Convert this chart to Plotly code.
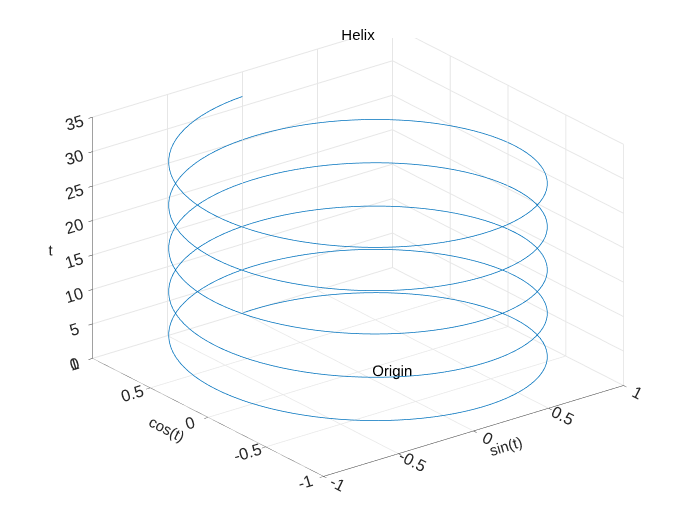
import numpy as np
import plotly.graph_objects as go

t_start = 0.0
t_end = 10 * np.pi
n_points = 501
xy_ticks = [-1, -0.5, 0, 0.5, 1]
xy_ticklabels = ["-1", "-0.5", "0", "0.5", "1"]
z_ticks = [0, 5, 10, 15, 20, 25, 30, 35]
label_text = ["Origin"]
label_pos = [0], [0], [0]

t = np.linspace(t_start, t_end, n_points)

fig = go.Figure()
fig.add_trace(go.Scatter3d(x=np.sin(t), y=np.cos(t), z=t, mode="lines",
                           line=dict(color="#0072BD", width=1.5), showlegend=False, hoverinfo="skip"))
fig.add_trace(go.Scatter3d(x=label_pos[0], y=label_pos[1], z=label_pos[2], mode="text", text=label_text,
                           textfont=dict(size=15, color="black", family="Liberation Sans"),
                           textposition="middle right", showlegend=False))

tfont = dict(size=15, family="Liberation Sans", color="#262626")
ax = dict(showbackground=False, gridcolor="#e6e6e6", linecolor="#262626", showline=True,
          zeroline=False, ticks="outside", tickcolor="#262626",
          tickfont=dict(size=14, family="Liberation Sans", color="#262626"),
          showspikes=False)
fig.update_layout(
    width=700, height=525, paper_bgcolor="white", margin=dict(l=0, r=0, t=30, b=0),
    title=dict(text="Helix", x=0.5, y=0.96, font=dict(size=15, family="Liberation Sans", color="black")),
    scene=dict(
        xaxis=dict(ax, title=dict(text="sin(t)", font=tfont), range=[-1, 1], tickvals=xy_ticks, ticktext=xy_ticklabels),
        yaxis=dict(ax, title=dict(text="cos(t)", font=tfont), range=[-1, 1], tickvals=xy_ticks, ticktext=xy_ticklabels),
        zaxis=dict(ax, title=dict(text="t", font=tfont), range=[0, 35], tickvals=z_ticks),
        aspectmode="manual", aspectratio=dict(x=1.53, y=1.53, z=1.06),
        camera=dict(eye=dict(x=-0.77, y=-1.0, z=0.39), center=dict(x=0, y=0, z=-0.15),
                    projection=dict(type="orthographic")),
    ),
)
fig.write_html("out.html")
